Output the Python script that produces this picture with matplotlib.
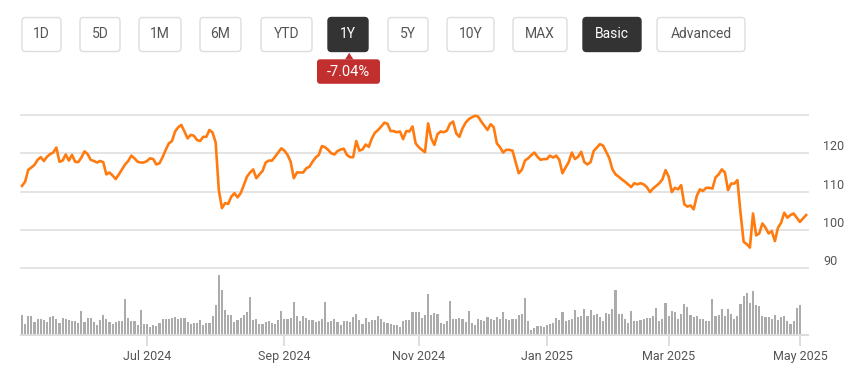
import matplotlib.pyplot as plt
from matplotlib.patches import FancyBboxPatch, Polygon
import pandas as pd

plt.rcParams['font.family'] = ['Roboto', 'DejaVu Sans']

# daily close, one per trading day
price = [
    111.5, 112.6, 115.7, 116.3, 117.0, 118.3, 119.0, 118.0, 119.1, 119.8,
    120.2, 121.5, 117.8, 118.1, 119.7, 118.1, 119.6, 117.8, 117.7, 118.9,
    120.5, 119.8, 118.3, 118.0, 117.6, 118.0, 117.7, 114.5, 115.0, 114.2,
    113.3, 114.5, 115.8, 117.1, 118.0, 119.4, 118.7, 117.8, 117.6, 117.6,
    118.0, 118.7, 118.5, 117.1, 117.4, 119.0, 120.9, 122.6, 123.2, 125.7,
    126.8, 127.4, 125.7, 123.9, 124.8, 124.6, 123.5, 123.2, 124.3, 124.3,
    126.1, 125.4, 122.8,
    110.4, 105.7, 107.0, 106.8, 108.7, 109.6, 108.5, 109.6, 111.7, 113.9,
    115.0, 115.8, 113.5, 114.5, 115.4, 117.6, 118.1, 118.1, 119.1, 120.2,
    121.3, 120.7, 119.6, 117.8, 113.5, 115.0, 115.0, 115.0, 116.1, 116.5,
    117.8, 118.9, 119.6, 121.9, 121.6, 120.9, 120.0, 119.7, 120.6, 121.0,
    121.2, 119.6, 119.0, 119.0, 123.2, 120.7, 121.0, 122.3, 121.7, 123.9,
    125.4, 126.1, 127.0, 128.0, 127.7, 125.8, 125.8, 125.5, 125.7, 123.7,
    125.8, 125.7, 127.0,
    122.6, 121.6, 120.9, 120.3, 127.8, 123.9, 122.2, 125.0, 125.7, 125.5,
    125.9, 127.7, 128.3, 125.2, 124.3, 126.5, 128.0, 128.9, 129.4, 129.8,
    129.6, 128.3, 127.2, 126.1, 127.6, 126.8, 122.6, 121.6, 120.2, 120.9,
    120.9, 120.7, 117.8, 114.8, 115.7, 118.1, 118.7, 119.5, 120.2, 119.1,
    118.3, 118.5, 118.5, 119.4, 118.9, 119.4, 118.3, 114.8, 116.3, 117.7,
    120.2, 118.5, 119.1, 120.4, 117.7, 117.1, 117.7, 120.6, 121.5, 122.4,
    122.0, 120.4, 118.7,
    115.8, 114.5, 113.9, 113.2, 112.6, 111.9, 111.2, 112.2, 111.9, 112.2,
    111.9, 111.2, 109.9, 110.8, 111.5, 112.2, 113.2, 115.6, 113.9, 109.9,
    111.0, 110.6, 111.7, 106.7, 106.1, 106.4, 105.4, 108.9, 110.6, 110.2,
    111.0, 111.0, 110.8, 113.7, 114.5, 115.8, 115.0, 110.4, 112.1, 112.1,
    113.0, 104.5, 96.9, 96.3, 95.4, 104.3, 98.6, 99.1, 101.7, 100.6,
    99.1, 99.7, 97.1, 100.6, 101.9, 104.5, 103.2, 103.9, 104.3, 103.2,
    102.1, 103.0, 103.9,
]

# daily volume, 100k shares
volume = [
    60, 33, 56, 56, 38, 48, 46, 45, 38, 53,
    56, 48, 35, 51, 48, 43, 41, 40, 36, 71,
    38, 50, 51, 38, 30, 45, 60, 48, 38, 33,
    38, 40, 41, 108, 50, 40, 40, 30, 75, 33,
    33, 23, 30, 26, 36, 48, 48, 46, 51, 53,
    48, 50, 50, 38, 33, 36, 35, 43, 30, 36,
    35, 56, 90, 180, 135, 73, 60, 58, 38, 43,
    50, 60, 68, 113, 43, 46, 33, 33, 38, 41,
    35, 33, 43, 71, 46, 46, 50, 98, 56,
    41, 56, 50, 43, 45, 38, 41, 48, 98, 38,
    40, 48, 38, 30, 40, 40, 38, 53, 63, 43,
    33, 51, 38, 43, 43, 56, 48, 38, 35, 33,
    28, 30, 23, 40, 43, 43, 68, 68, 68, 51,
    60, 123, 60, 66, 63, 36, 33, 41, 101, 46,
    48, 51, 48, 38, 71, 36, 30, 48, 43, 41,
    53, 46, 43, 53, 48, 68, 48, 43, 46, 48,
    58, 63, 111, 40, 13, 21, 25, 25, 23, 30,
    33, 36, 51, 43, 68, 40, 45, 48, 75, 53,
    56, 78, 56, 75, 60, 63, 53, 40, 66, 63,
    78, 135, 63, 63, 48, 36, 71, 40, 40, 45,
    48, 51, 51, 56, 81, 41, 48, 96, 56, 71,
    68, 46, 63, 93, 83, 60, 53, 56, 48, 48,
    40, 40, 108, 56, 58, 78, 56, 78, 63, 46,
    55, 93, 115, 126, 96, 130, 88, 85, 56, 53,
    53, 48, 58, 45, 53, 56, 41, 33, 40, 81,
    90,
]

end_date = '2025-05-05'
holidays = ['2024-05-27', '2024-06-19', '2024-07-04', '2024-09-02', '2024-11-28',
            '2024-12-25', '2025-01-01', '2025-01-09', '2025-01-20', '2025-02-17',
            '2025-04-18']
tick_months = [7, 9, 11, 1, 3, 5]
grid_levels = [90, 100, 110, 120, 130]
price_labels = [90, 100, 110, 120]

ranges = ['1D', '5D', '1M', '6M', 'YTD', '1Y', '5Y', '10Y', 'MAX', 'Basic', 'Advanced']
active = ['1Y', 'Basic']
change = '-7.04%'

# button edges in pixels
btn_left = [22, 80, 139, 200, 261, 328, 388, 447, 513, 583, 657]
btn_right = [61, 120, 181, 241, 312, 368, 428, 494, 567, 641, 745]

dates = pd.date_range(end=end_date, periods=len(price),
                      freq=pd.offsets.CustomBusinessDay(holidays=holidays))
tick_pos = []
tick_lab = []
for i in range(1, len(dates)):
    if dates[i].month != dates[i - 1].month and dates[i].month in tick_months:
        tick_pos.append(i)
        tick_lab.append(dates[i].strftime('%b %Y'))

W, H = 852, 375
fig = plt.figure(figsize=(W / 100, H / 100), dpi=100)
xl = (-0.32, 251.6)

ax = fig.add_axes([21 / W, 1 - 268.3 / H, 787 / W, (268.3 - 115) / H])
for v in grid_levels:
    ax.axhline(v, color='#e2e2e2', lw=1.3, zorder=0, clip_on=False)
ax.plot(range(len(price)), price, color='#ff7b0f', lw=1.9, zorder=3,
        solid_joinstyle='round', clip_on=False)
ax.set_xlim(*xl)
ax.set_ylim(90, 130)
ax.axis('off')
for v in price_labels:
    ax.annotate(str(v), xy=(1, v), xycoords=ax.get_yaxis_transform(),
                xytext=(15, 6.5), textcoords='offset pixels',
                ha='left', va='center', fontsize=9, color='#555555')

axv = fig.add_axes([21 / W, 1 - 334.5 / H, 787 / W, (334.5 - 268.3) / H])
axv.bar(range(len(volume)), volume, width=0.68, color='#ababab', zorder=2)
axv.set_xlim(*xl)
axv.set_ylim(0, 199)
for s in ['top', 'left', 'right']:
    axv.spines[s].set_visible(False)
axv.spines['bottom'].set_color('#dcdcdc')
axv.spines['bottom'].set_linewidth(1.5)
axv.set_yticks([])
axv.set_xticks(tick_pos)
axv.set_xticklabels(tick_lab)
axv.tick_params(axis='x', length=8, width=1.2, color='#d8d8d8',
                labelcolor='#555555', labelsize=9, pad=3)
axv.patch.set_alpha(0)

# range buttons on top
ov = fig.add_axes([0, 0, 1, 1])
ov.set_xlim(0, W)
ov.set_ylim(H, 0)
ov.axis('off')
ov.patch.set_alpha(0)
for name, l, r in zip(ranges, btn_left, btn_right):
    on = name in active
    ov.add_patch(FancyBboxPatch((l, 17.5), r - l, 34, boxstyle='round,pad=0,rounding_size=3.5',
                                fc='#333333' if on else 'white',
                                ec='#333333' if on else '#dddddd', lw=1))
    ov.text((l + r) / 2, 34.5, name, ha='center', va='center', fontsize=10,
            color='white' if on else '#555555')

ov.add_patch(Polygon([(345, 59.5), (353.5, 59.5), (349.2, 52.8)], closed=True,
                     fc='#c1302f', ec='none'))
ov.add_patch(FancyBboxPatch((317, 59.3), 63, 24.5, boxstyle='round,pad=0,rounding_size=3',
                            fc='#c1302f', ec='none'))
ov.text(348.5, 72, change, ha='center', va='center', fontsize=10.5, color='white')

fig.savefig('out.png', dpi=100)
